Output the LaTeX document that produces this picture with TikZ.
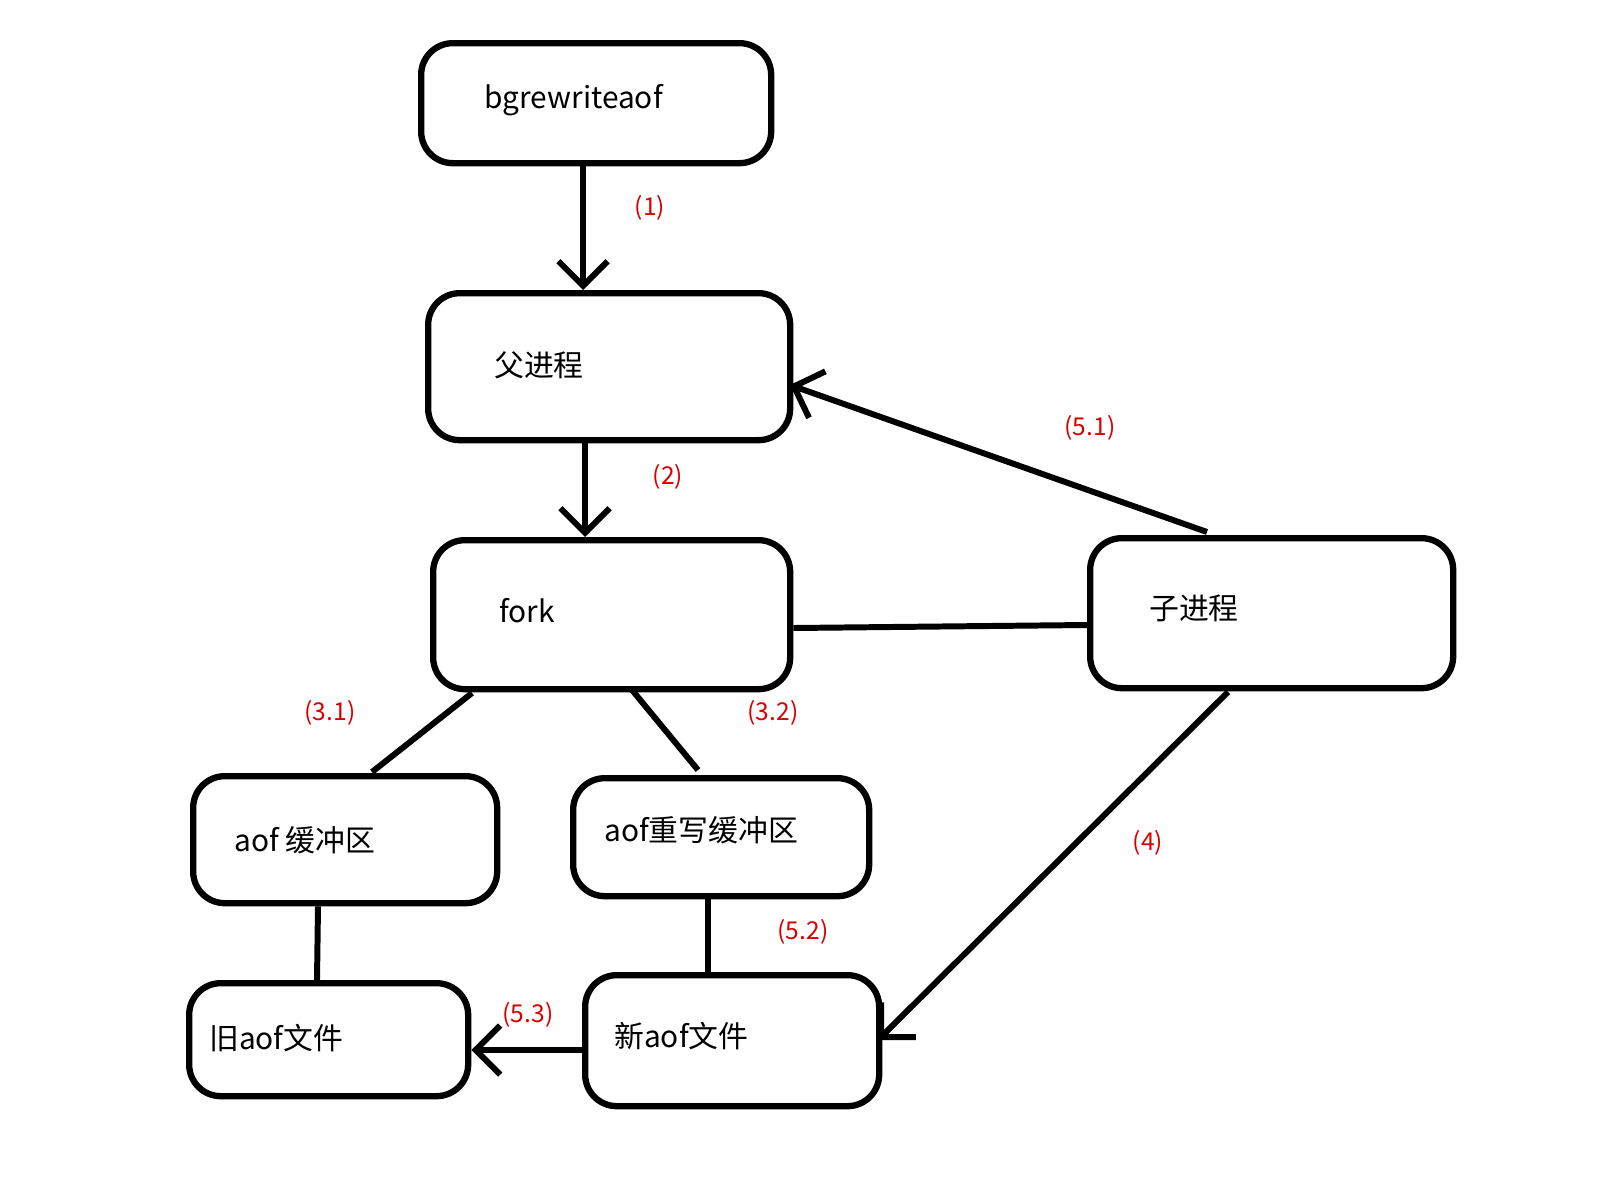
\documentclass[tikz,border=0pt]{standalone}
\usepackage{fontspec}
\setmainfont{Noto Sans CJK SC}
\usetikzlibrary{arrows.meta}
\tikzset{
  box/.style={draw, line width=3.6pt, rounded corners=18pt, anchor=north west, inner sep=0pt},
  txt/.style={anchor=west, font=\fontsize{17}{19}\selectfont},
  num/.style={text=red!85!black, font=\fontsize{14}{16}\selectfont},
  link/.style={line width=3.4pt},
  go/.style={link, -{Straight Barb[length=14pt, width=28pt, line width=3.4pt]}}
}
\begin{document}
\begin{tikzpicture}[x=0.02cm, y=-0.02cm]
	\useasboundingbox (0,0) rectangle (1608,1190);
	% boxes
	\node[box, minimum width=350*0.02cm, minimum height=120*0.02cm] (bg) at (418,40) {};
	\node[box, minimum width=362*0.02cm, minimum height=147*0.02cm] (parent) at (425,290) {};
	\node[box, minimum width=357*0.02cm, minimum height=149*0.02cm] (fork) at (430,537) {};
	\node[box, minimum width=363*0.02cm, minimum height=150*0.02cm] (child) at (1087,535) {};
	\node[box, minimum width=304*0.02cm, minimum height=127*0.02cm] (aofbuf) at (190,773) {};
	\node[box, minimum width=296*0.02cm, minimum height=118*0.02cm] (rwbuf) at (570,775) {};
	\node[box, minimum width=279*0.02cm, minimum height=113*0.02cm] (oldf) at (186,980) {};
	\node[box, minimum width=294*0.02cm, minimum height=131*0.02cm] (newf) at (582,972) {};
	% texts
	\node[txt] (tbg) at (478,100) {bgrewriteaof};
	\node[txt] (tparent) at (488,365) {父进程};
	\node[txt] (tfork) at (493,611) {fork};
	\node[txt] (tchild) at (1143,608) {子进程};
	\node[txt] (taofbuf) at (228,840) {aof 缓冲区};
	\node[txt] (trwbuf) at (598,830) {aof重写缓冲区};
	\node[txt] (toldf) at (203,1038) {旧aof文件};
	\node[txt] (tnewf) at (608,1036) {新aof文件};
	% connectors
	\coordinate (c1) at (1207,532);
	\coordinate (c2) at (790,385);
	\draw[go] (bg.south -| 583,0) -- (parent.north -| 583,0);
	\draw[go] (parent.south -| 585,0) -- (fork.north -| 585,0);
	\draw[go] (c1) -- (c2);
	\draw[link] (fork.east |- 0,628) -- (child.west |- 0,625);
	\draw[link] (472,693) -- (372,772);
	\draw[link] (632,690) -- (698,770);
	\draw[go] (1228,692) -- (878,1040);
	\draw[link] (aofbuf.south -| 318,0) -- (oldf.north -| 317,0);
	\draw[link] (rwbuf.south -| 708,0) -- (newf.north -| 708,0);
	\draw[go] (newf.west |- 0,1050) -- (oldf.east |- 0,1050);
	% labels
	\node[num] (l1) at (650,208) {(1)};
	\node[num] (l2) at (668,477) {(2)};
	\node[num] (l51) at (1090,428) {(5.1)};
	\node[num] (l31) at (330,713) {(3.1)};
	\node[num] (l32) at (773,713) {(3.2)};
	\node[num] (l4) at (1148,843) {(4)};
	\node[num] (l52) at (803,932) {(5.2)};
	\node[num] (l53) at (528,1015) {(5.3)};
\end{tikzpicture}
\end{document}
